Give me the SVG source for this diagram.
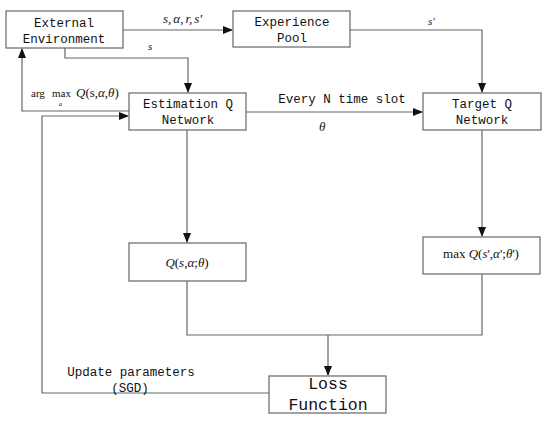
<svg xmlns="http://www.w3.org/2000/svg" width="550" height="422" viewBox="0 0 550 422">
<defs>
<marker id="ah" markerWidth="10" markerHeight="8" refX="9" refY="4" orient="auto" markerUnits="userSpaceOnUse">
<path d="M0,0 L10,4 L0,8 Z" fill="#111"/>
</marker>
<style>
.box{fill:#fff;stroke:#666;stroke-width:1.2}
.ln{fill:none;stroke:#666;stroke-width:1.2}
.mono{font-family:"Liberation Mono","DejaVu Sans Mono",monospace;font-size:12.5px;fill:#111;text-anchor:middle}
.big{font-size:16.5px}
.m{font-family:"Liberation Serif","Times New Roman",serif;font-size:13px;fill:#111}
.s11{font-size:11px}
.sub{font-size:6px}
.i{font-style:italic}
</style>
</defs>
<rect width="550" height="422" fill="#fff"/>
<g id="connectors">
<path class="ln" d="M123,30 H232" marker-end="url(#ah)"/>
<path class="ln" d="M350,30 H482 V92" marker-end="url(#ah)"/>
<path class="ln" d="M65,48 V58 H188 V92" marker-end="url(#ah)"/>
<path class="ln" d="M129,111 H22 V49" marker-end="url(#ah)"/>
<path class="ln" d="M269,393 H42 V116 H128" marker-end="url(#ah)"/>
<path class="ln" d="M246,112 H422" marker-end="url(#ah)"/>
<path class="ln" d="M187,130 V242" marker-end="url(#ah)"/>
<path class="ln" d="M482,130 V236" marker-end="url(#ah)"/>
<path class="ln" d="M187,281 V335 H482 V274"/>
<path class="ln" d="M328,335 V375" marker-end="url(#ah)"/>
<text class="m i" x="163" y="23">s,<tspan dx="2">α</tspan>,<tspan dx="2">r</tspan>,<tspan dx="2">s'</tspan></text>
<text class="m i s11" x="148" y="50">s</text>
<text class="m i s11" x="428" y="25">s'</text>
<text class="mono" x="342" y="103">Every N time slot</text>
<text class="m i" x="319" y="131">θ</text>
<text class="m s11" x="31" y="97">arg</text>
<text class="m s11" x="52" y="97">max</text>
<text class="m i sub" x="59" y="106">a</text>
<text class="m" x="76" y="97"><tspan class="i">Q</tspan>(s,<tspan class="i">α</tspan>,<tspan class="i">θ</tspan>)</text>
<text class="mono" x="131" y="376">Update parameters</text>
<text class="mono" x="130" y="392">(SGD)</text>
</g>
<g id="external-environment">
<rect class="box" x="6" y="11" width="117" height="37"/>
<text class="mono" x="64" y="27">External</text>
<text class="mono" x="64" y="43">Environment</text>
</g>
<g id="experience-pool">
<rect class="box" x="233" y="11" width="117" height="36"/>
<text class="mono" x="292" y="26">Experience</text>
<text class="mono" x="292" y="42">Pool</text>
</g>
<g id="estimation-q">
<rect class="box" x="129" y="93" width="117" height="37"/>
<text class="mono" x="188" y="108">Estimation Q</text>
<text class="mono" x="188" y="124">Network</text>
</g>
<g id="target-q">
<rect class="box" x="423" y="93" width="118" height="37"/>
<text class="mono" x="482" y="108">Target Q</text>
<text class="mono" x="482" y="124">Network</text>
</g>
<g id="q-value">
<rect class="box" x="129" y="243" width="117" height="38"/>
<text class="m" x="187" y="267" text-anchor="middle"><tspan class="i">Q</tspan>(<tspan class="i">s</tspan>,<tspan class="i">α</tspan>;<tspan class="i">θ</tspan>)</text>
</g>
<g id="max-q">
<rect class="box" x="423" y="237" width="117" height="37"/>
<text class="m" x="481" y="258" text-anchor="middle">max <tspan class="i">Q</tspan>(<tspan class="i">s</tspan>',<tspan class="i">α</tspan>';<tspan class="i">θ</tspan>')</text>
</g>
<g id="loss-function">
<rect class="box" x="269" y="376" width="117" height="37"/>
<text class="mono big" x="328" y="389">Loss</text>
<text class="mono big" x="328" y="410">Function</text>
</g>
</svg>
